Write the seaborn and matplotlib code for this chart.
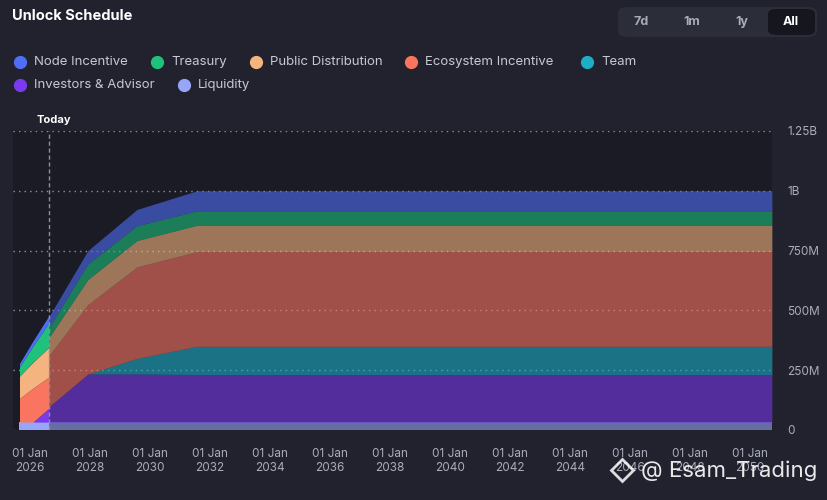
import pandas as pd
import numpy as np
import matplotlib.pyplot as plt
import matplotlib.dates as mdates
from matplotlib.patches import FancyBboxPatch
from matplotlib.lines import Line2D
from matplotlib.ticker import FuncFormatter
import seaborn as sns


# series, bottom -> top of the stack
series = ['Liquidity', 'Investors & Advisor', 'Team', 'Ecosystem Incentive',
          'Public Distribution', 'Treasury', 'Node Incentive']
colors = ['#97a6f9', '#7c3aed', '#1eaec6', '#fa7560', '#f5b47f', '#1fc17b', '#4f6ef7']

# unlocked so far (millions of tokens)
past_dates = ['2025-08-25', '2026-02-05', '2026-08-20']
past_liquidity = [33, 33, 33]
past_investors = [0, 0, 59]
past_team = [0, 0, 0]
past_ecosystem = [99, 142, 130]
past_public = [93, 108, 125]
past_treasury = [39, 68, 103]
past_node = [14, 21, 29]

# projected schedule (millions of tokens)
future_dates = ['2026-08-20', '2027-12-05', '2029-07-25', '2031-07-25', '2050-09-20']
future_liquidity = [32, 32, 32, 32, 32]
future_investors = [66, 202, 202, 200, 200]
future_team = [0, 0, 65, 118, 118]
future_ecosystem = [214, 290, 383, 396, 396]
future_public = [75, 105, 110, 110, 110]
future_treasury = [42, 65, 62, 60, 60]
future_node = [46, 56, 68, 84, 84]

today = '2026-08-20'
y_ticks = [0, 250e6, 500e6, 750e6, 1e9, 1.25e9]
y_labels = ['0', '250M', '500M', '750M', '1B', '1.25B']

legend_order = ['Node Incentive', 'Treasury', 'Public Distribution', 'Ecosystem Incentive',
                'Team', 'Investors & Advisor', 'Liquidity']
buttons = ['7d', '1m', '1y', 'All']

fig_bg = '#21222d'
plot_bg = '#1a1b25'

sns.set_theme(style='dark', rc={'axes.facecolor': plot_bg, 'figure.facecolor': fig_bg})
plt.rcParams['font.family'] = ['Inter', 'DejaVu Sans']

fig = plt.figure(figsize=(8.28, 5.0), dpi=100)
ax = fig.add_axes([13 / 828, 70 / 500, 759 / 828, 299 / 500])
ax.set_facecolor(plot_bg)

pdates = pd.to_datetime(past_dates)
fdates = pd.to_datetime(future_dates)
past = np.array([past_liquidity, past_investors, past_team, past_ecosystem,
                 past_public, past_treasury, past_node]) * 1e6
future = np.array([future_liquidity, future_investors, future_team, future_ecosystem,
                   future_public, future_treasury, future_node]) * 1e6

ax.stackplot(pdates, past, colors=colors, linewidth=0, zorder=2)
ax.stackplot(fdates, future, colors=colors, alpha=0.6, linewidth=0, zorder=2)

ax.set_xlim(pd.Timestamp('2025-06-07'), pd.Timestamp('2050-09-22'))
ax.set_ylim(0, 1.25e9)
ax.set_yticks(y_ticks)
ax.yaxis.set_major_formatter(FuncFormatter(lambda v, p: y_labels[y_ticks.index(v)] if v in y_ticks else ''))
ax.yaxis.tick_right()
ax.xaxis.set_major_locator(mdates.YearLocator(2, month=1, day=1))
ax.xaxis.set_major_formatter(mdates.DateFormatter('%d %b\n%Y'))
ax.tick_params(axis='both', length=0, colors='#a9adb9', labelsize=8.5)
ax.tick_params(axis='y', pad=11)
ax.tick_params(axis='x', pad=13)
for lab in ax.get_yticklabels():
    lab.set_horizontalalignment('left')
ax.yaxis.grid(True, linestyle=(0, (1, 3)), color='#8d909a', linewidth=1)
ax.xaxis.grid(False)
ax.set_axisbelow(True)
for s in ax.spines.values():
    s.set_visible(False)

# today marker
ax.axvline(pd.Timestamp(today), color='#8d909a', linestyle=(0, (3, 2)), linewidth=1, zorder=3)
ax.text(pd.Timestamp(today) + pd.Timedelta(days=60), 1.25e9 + 2.5e7, 'Today', color='white',
        fontsize=8, fontweight='bold', ha='center', va='bottom')

# title
fig.text(12 / 828, 1 - 16 / 500, 'Unlock Schedule', color='white', fontsize=10.5,
         fontweight='bold', va='center', ha='left')

# legend as a flowing row of dots
leg_pos = [(20, 62), (157, 62), (256, 62), (411, 62), (587, 62), (20, 85), (184, 85)]
for name, (px, py) in zip(legend_order, leg_pos):
    c = colors[series.index(name)]
    fig.add_artist(Line2D([px / 828], [1 - py / 500], marker='o', markersize=8.5,
                          color=c, linestyle='none', transform=fig.transFigure))
    fig.text((px + 14) / 828, 1 - py / 500, name, color='#c5c9d6', fontsize=9.5,
             va='center', ha='left')

# range buttons
fig.add_artist(FancyBboxPatch((618 / 828, 1 - 37 / 500), 199 / 828, 30 / 500,
                              boxstyle='round,pad=0,rounding_size=0.012',
                              transform=fig.transFigure, facecolor='#2b2d39', edgecolor='none'))
fig.add_artist(FancyBboxPatch((768 / 828, 1 - 35 / 500), 47 / 828, 26 / 500,
                              boxstyle='round,pad=0,rounding_size=0.01',
                              transform=fig.transFigure, facecolor='#15161e', edgecolor='none'))
for label, bx in zip(buttons, [641, 692, 742, 791]):
    sel = label == 'All'
    fig.text(bx / 828, 1 - 22 / 500, label, color='white' if sel else '#a9adb9',
             fontsize=9, fontweight='bold', ha='center', va='center')

# watermark
fig.add_artist(Line2D([622 / 828], [1 - 470 / 500], marker='D', markersize=11, markerfacecolor='none',
                      markeredgecolor='white', markeredgewidth=2, alpha=0.85,
                      linestyle='none', transform=fig.transFigure))
fig.text(817 / 828, 1 - 471 / 500, '@ Esam_Trading', color='white', alpha=0.9, fontsize=16,
         ha='right', va='center')

plt.savefig('out.png', dpi=100, facecolor=fig_bg)
